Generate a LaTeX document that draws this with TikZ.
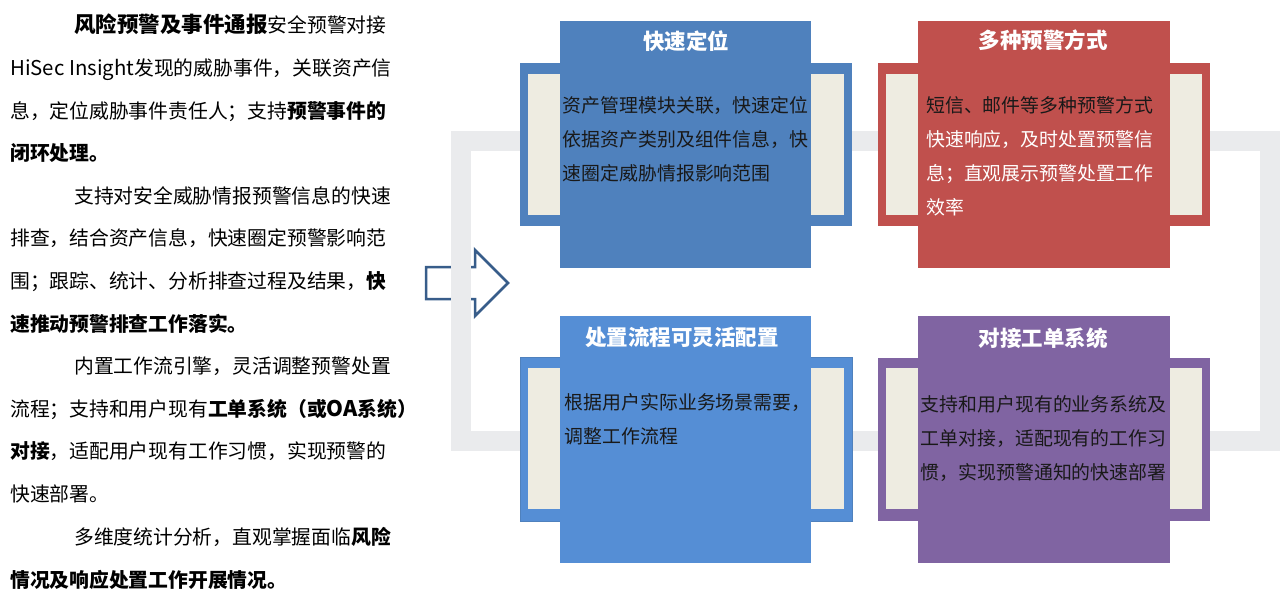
\documentclass[tikz,border=0pt]{standalone}
\usepackage{xcolor}
\usepackage{fontspec}
\setmainfont{Noto Sans CJK SC}
\definecolor{mygray}{HTML}{EAEBED}
\definecolor{mycream}{HTML}{EEECE1}
\definecolor{myarrow}{HTML}{385D8A}
\definecolor{mysteel}{HTML}{4F81BD}
\definecolor{myred}{HTML}{C0504D}
\definecolor{myblue}{HTML}{558ED5}
\definecolor{mypurple}{HTML}{8064A2}
\newcommand{\firstindent}{\hspace*{64pt}}
\tikzset{
  sidetext/.style={anchor=north west,inner sep=0pt,align=left,text=black,
    font=\fontsize{19.8}{42.7}\selectfont},
  bodytext/.style={anchor=north west,inner sep=0pt,align=left,text=black!90,
    font=\fontsize{18.9}{34}\selectfont},
  titletext/.style={inner sep=0pt,text=white,
    font=\fontsize{21.5}{26}\selectfont\bfseries}
}
\begin{document}
\begin{tikzpicture}[x=1pt,y=-1pt]
\useasboundingbox (0,0) rectangle (1285,604);
% arrow under the frame
\draw [myarrow, line width=2.5pt, fill=white] (426,267) -- (475,267) -- (475,250) -- (508,283)
  -- (475,316) -- (475,299) -- (426,299) -- cycle;
\draw [mygray, line width=20pt] (460.5,141.5) rectangle (1270,441);
% the four cards
\foreach \cardcol/\xa/\xb/\ya/\wa/\wb/\ca/\cb in {mysteel/560/811/21/63/226/74/215,
  myred/918/1170/21/63/226/74/215, myblue/560/811/316/357.5/521.5/368/509,
  mypurple/918/1170/316/358/521/368/509}{
  \fill [\cardcol] (\xa-40,\wa) rectangle (\xa+292,\wb);
  \fill [mycream] (\xa-32,\ca) rectangle (\xa+284,\cb);
  \fill [\cardcol] (\xa,\ya) rectangle (\xb,\ya+247);
}
\draw [mysteel, line width=0.8pt] (560,357.5) -- (520,357.5) -- (520,521.5) -- (560,521.5);
\draw [mysteel, line width=0.8pt] (811,357.5) -- (852,357.5) -- (852,521.5) -- (811,521.5);
% card titles
\node [titletext] (locatetitle) at (686,41) {快速定位};
\node [titletext] (warntitle) at (1043,40) {多种预警方式};
\node [titletext] (flowtitle) at (682,337) {处置流程可灵活配置};
\node [titletext] (ticket) at (1043,338) {对接工单系统};
% card texts
\node [bodytext] (locatebody) at (562.5,96) {资产管理模块关联，快速定位\\依据资产类别及组件信息，快\\速圈定威胁情报影响范围};
\node [bodytext] (warnbody) at (926,96) {短信、邮件等多种预警方式\\\textcolor{white}{快速响应，及时处置预警信}\\\textcolor{white}{息；直观展示预警处置工作}\\\textcolor{white}{效率}};
\node [bodytext] (flowbody) at (564.5,393) {根据用户实际业务场景需要，\\调整工作流程};
\node [bodytext] (ticketbody) at (920.5,395) {支持和用户现有的业务系统及\\工单对接，适配现有的工作习\\惯，实现预警通知的快速部署};
% left column
\node [sidetext] (sideone) at (10,14) {\firstindent{\fontsize{21.5}{42.7}\selectfont\bfseries 风险预警及事件通报}安全预警对接\\{\fontsize{20.4}{42.7}\selectfont HiSec Insight}发现的威胁事件，关联资产信\\息，定位威胁事件责任人；支持\textbf{预警事件的}\\\textbf{闭环处理。}};
\node [sidetext] (sidetwo) at (10,186) {\firstindent 支持对安全威胁情报预警信息的快速\\排查，结合资产信息，快速圈定预警影响范\\围；跟踪、统计、分析排查过程及结果，\textbf{快}\\\textbf{速推动预警排查工作落实。}};
\node [sidetext] (sidethree) at (10,356.5) {\firstindent 内置工作流引擎，灵活调整预警处置\\流程；支持和用户现有\textbf{工单系统（或{\fontsize{21.5}{42.7}\selectfont OA}系统）}\\\textbf{对接}，适配用户现有工作习惯，实现预警的\\快速部署。};
\node [sidetext] (sidefour) at (10,527) {\firstindent 多维度统计分析，直观掌握面临\textbf{风险}\\\textbf{情况及响应处置工作开展情况。}};
\end{tikzpicture}
\end{document}
